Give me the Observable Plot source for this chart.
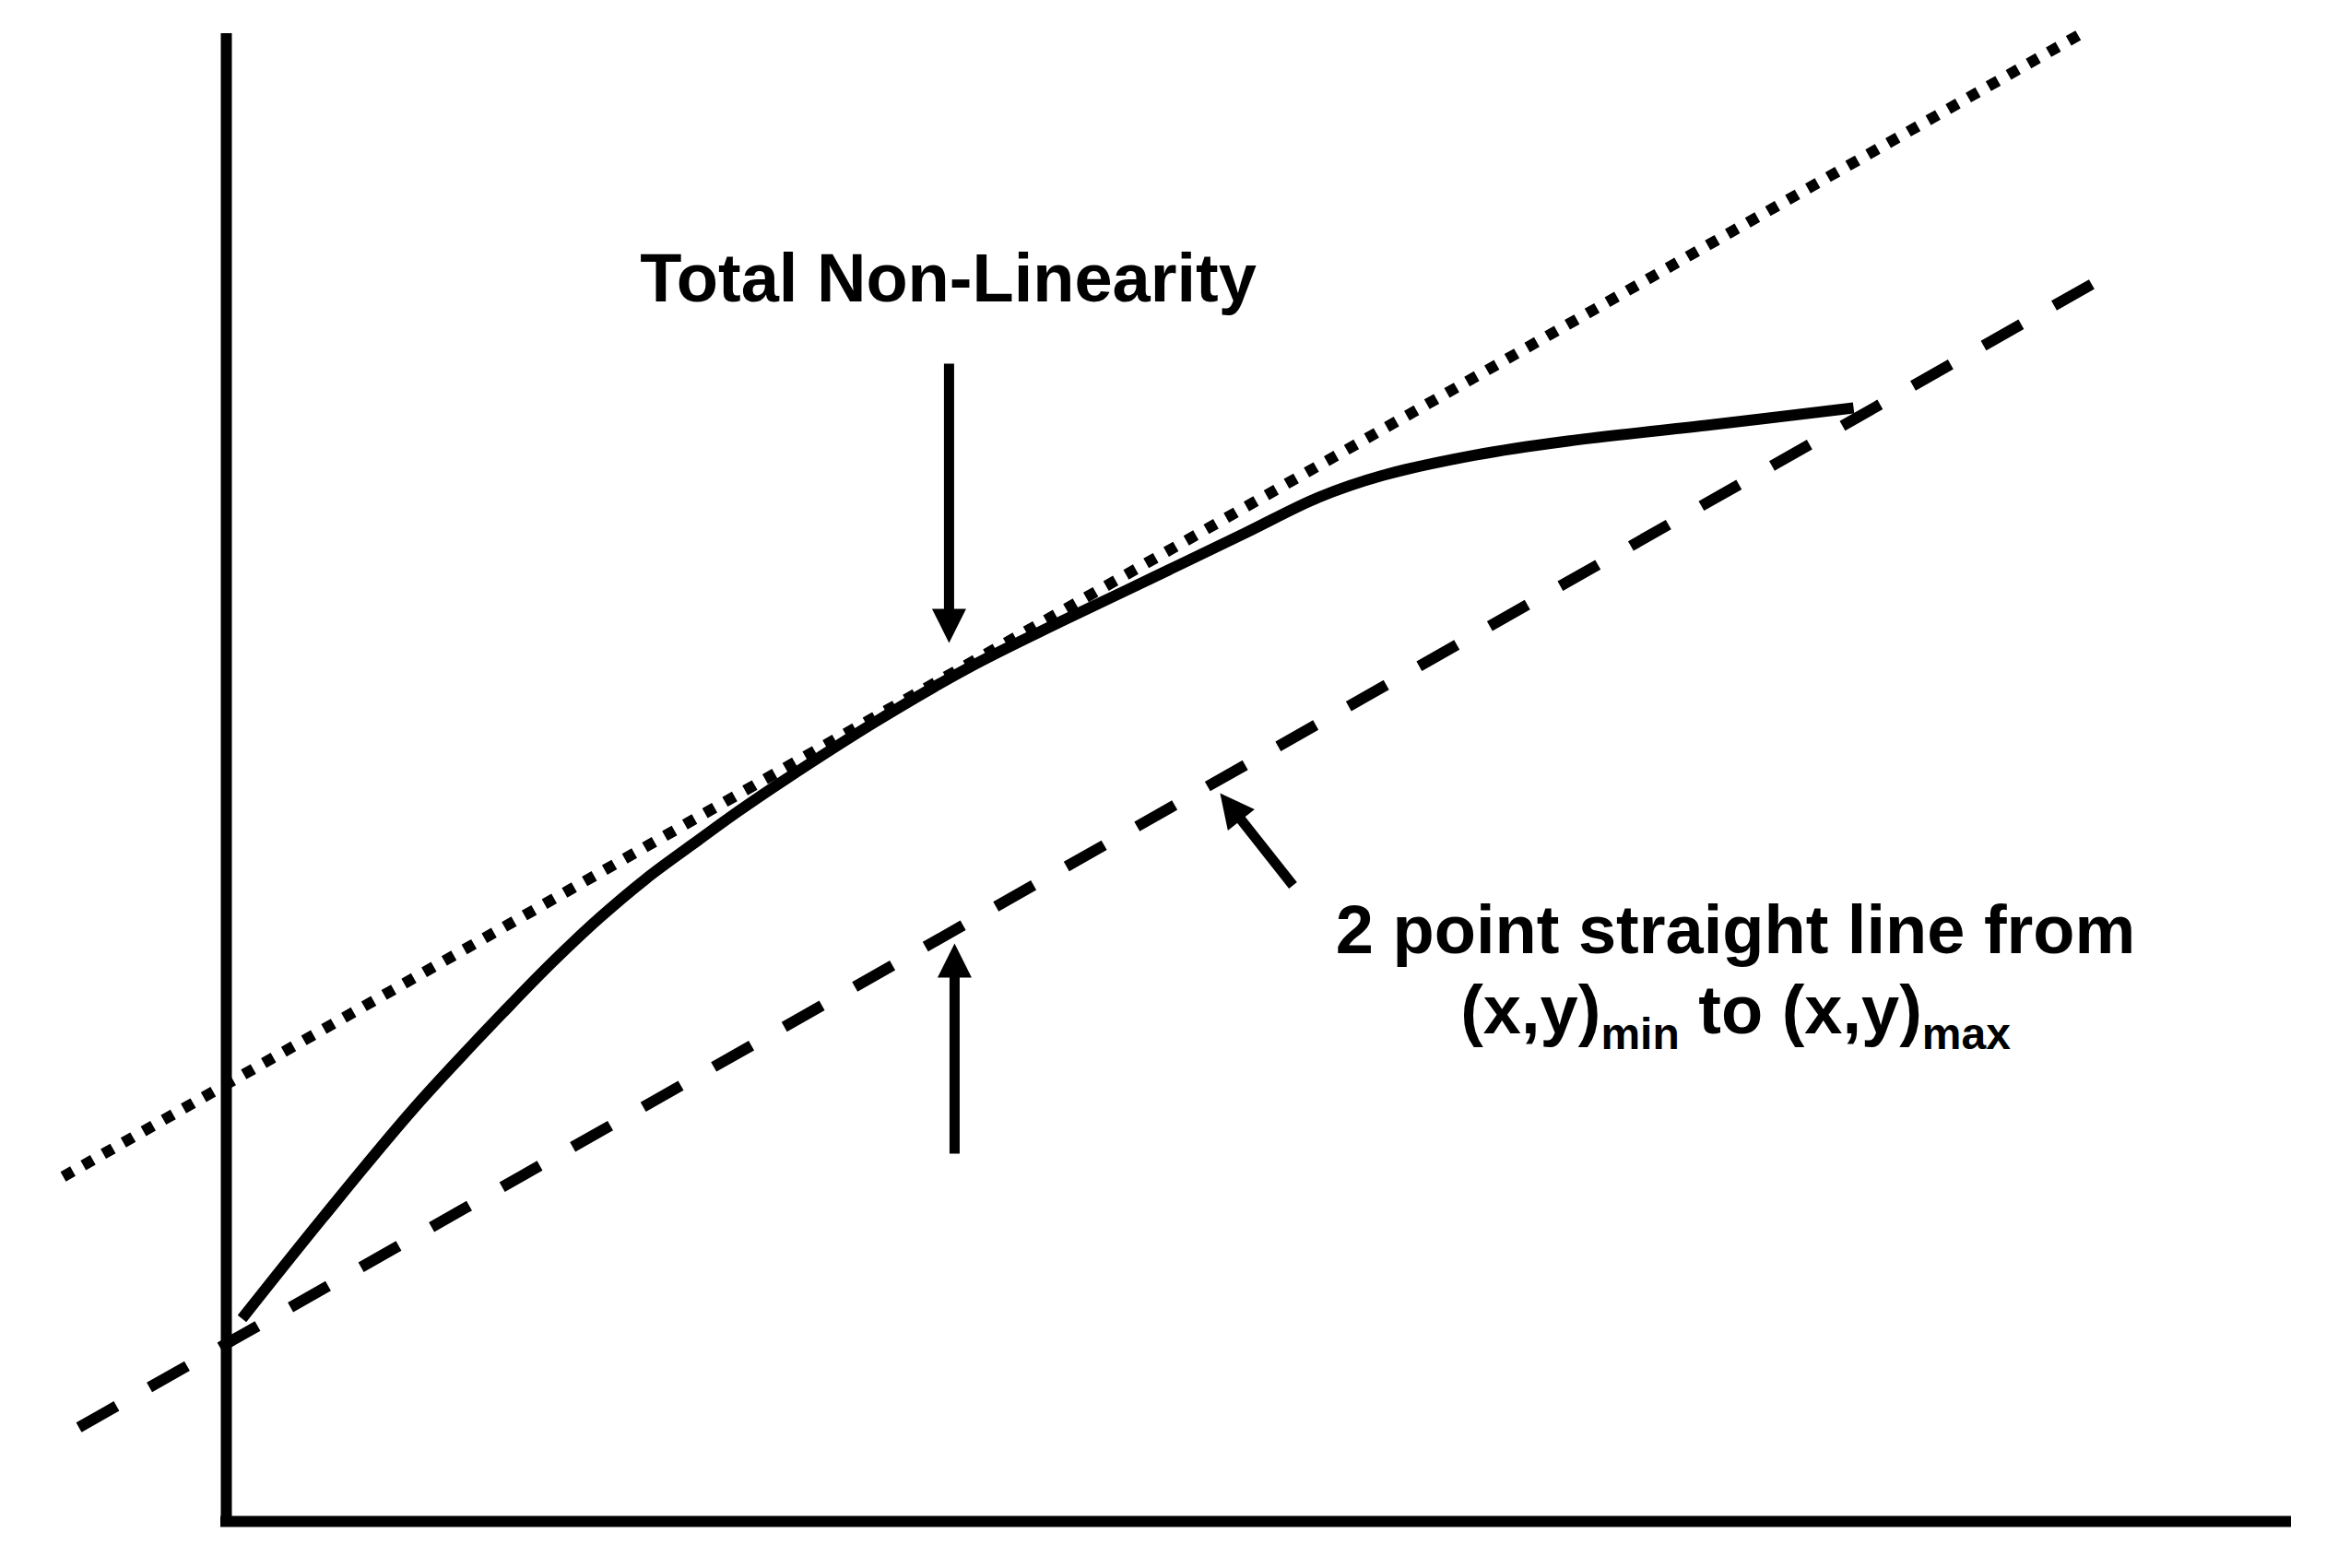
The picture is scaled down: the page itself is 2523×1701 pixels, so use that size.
<!DOCTYPE html>
<html>
<head>
<meta charset="utf-8">
<script src="https://cdn.jsdelivr.net/npm/d3@7"></script>
<script src="https://cdn.jsdelivr.net/npm/@observablehq/plot@0.6"></script>
<style>
  html, body { margin: 0; padding: 0; background: #ffffff; }
  #chart svg { display: block; }
</style>
</head>
<body>
<div id="chart"></div>
<script>
// ---- Data (schematic units, 0–100 on both axes) ----
// Measured transfer curve (solid)
const curveX = [0.76, 4.70, 9.18, 13.65, 15.89, 18.13, 20.37, 22.61, 24.84, 27.08, 31.56, 36.03, 40.51, 44.99, 49.46, 53.04, 56.18, 60.65, 65.13, 71.84, 79.01];
const curveY = [13.68, 20.52, 27.99, 34.64, 37.81, 40.73, 43.35, 45.65, 47.89, 50.00, 53.98, 57.59, 60.70, 63.68, 66.67, 69.09, 70.58, 71.95, 72.89, 73.94, 75.12];
// Best-fit (tangent) line (dotted)
const tangentX = [-7.92, 90.15];
const tangentY = [23.26, 100.44];
// 2-point straight line (dashed)
const endpointX = [-7.16, 90.64];
const endpointY = [6.34, 83.52];
// Annotation arrows: from -> to (tip)
const arrowFromX = [35.09, 35.36, 51.79];
const arrowFromY = [78.11, 24.81, 42.91];
const arrowToX = [35.09, 35.36, 48.25];
const arrowToY = [59.27, 38.99, 49.13];
// Labels
const labelText = ["Total Non-Linearity", "2 point straight line from", "(x,y)min to (x,y)max"];
const labelX = [35.05, 73.28, 73.28];
const labelY = [82.28, 38.37, 32.96];
// Subscripted rendering of the last label: [text, isSubscript]
const rangeLabelParts = [["(x,y)", false], ["min", true], [" to (x,y)", false], ["max", true]];

// ---- Build tables ----
const curve = curveX.map((x, i) => ({x, y: curveY[i]}));
const tangent = tangentX.map((x, i) => ({x, y: tangentY[i]}));
const endpoints = endpointX.map((x, i) => ({x, y: endpointY[i]}));
const arrows = arrowFromX.map((x1, i) => ({x1, y1: arrowFromY[i], x2: arrowToX[i], y2: arrowToY[i]}));
const labels = labelText.map((text, i) => ({text, x: labelX[i], y: labelY[i]}));

const W = 2523, H = 1701;
const xScale = {domain: [0, 100], range: [245, 2479]};
const yScale = {domain: [0, 100], range: [1650, 42]};
const sx = Plot.scale({x: xScale});
const sy = Plot.scale({y: yScale});
const headAngle = d => Math.atan2(sx.apply(d.x2) - sx.apply(d.x1), -(sy.apply(d.y2) - sy.apply(d.y1))) * 180 / Math.PI;

const font = "'Liberation Sans', Arial, Helvetica, sans-serif";

const plot = Plot.plot({
  width: W,
  height: H,
  margin: 0,
  x: {...xScale, axis: null},
  y: {...yScale, axis: null},
  style: {background: "#ffffff", maxWidth: "none", fontFamily: font, overflow: "visible"},
  marks: [
    Plot.line(tangent, {x: "x", y: "y", stroke: "black", strokeWidth: 12, strokeDasharray: "12,13", strokeLinecap: "butt"}),
    Plot.line(endpoints, {x: "x", y: "y", stroke: "black", strokeWidth: 12, strokeDasharray: "47,41", strokeLinecap: "butt"}),
    Plot.line(curve, {x: "x", y: "y", stroke: "black", strokeWidth: 12, curve: "catmull-rom", strokeLinecap: "butt", strokeLinejoin: "round"}),
    Plot.ruleX([0], {y1: 0, y2: 100, stroke: "black", strokeWidth: 12, strokeLinecap: "square"}),
    Plot.ruleY([0], {x1: 0, x2: 100, stroke: "black", strokeWidth: 12, strokeLinecap: "square"}),
    Plot.arrow(arrows, {x1: "x1", y1: "y1", x2: "x2", y2: "y2", stroke: "black", strokeWidth: 11, headLength: 0, insetEnd: 20, strokeLinecap: "butt"}),
    Plot.vector(arrows, {x: "x2", y: "y2", rotate: headAngle, length: 37, r: 18.5, shape: "spike", anchor: "end", fill: "black", stroke: "none"}),
    Plot.text(labels, {x: "x", y: "y", text: "text", fontSize: 74, fontWeight: "bold", fill: "black", textAnchor: "middle", lineAnchor: "bottom", fontFamily: font})
  ]
});

// Render subscripts in the range label as real text tspans
const svg = d3.select(plot);
svg.selectAll("text").filter(function() { return this.textContent === labelText[2]; }).each(function() {
  const t = d3.select(this);
  t.text(null);
  let shifted = false;
  rangeLabelParts.forEach(([s, sub]) => {
    const span = t.append("tspan").text(s).attr("font-size", sub ? 48 : 74);
    if (sub && !shifted) { span.attr("dy", 17); shifted = true; }
    else if (!sub && shifted) { span.attr("dy", -17); shifted = false; }
  });
});

document.getElementById("chart").appendChild(plot);
</script>
</body>
</html>
